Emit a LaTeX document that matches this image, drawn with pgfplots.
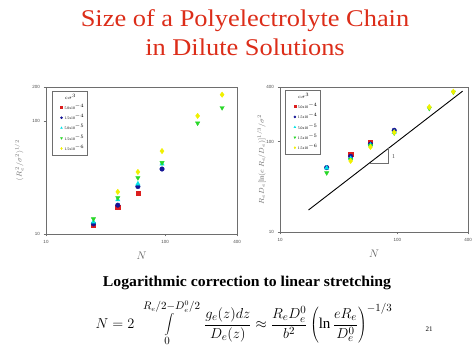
\documentclass[border=0pt]{standalone}
\usepackage{pgfplots}
\pgfplotsset{compat=1.18}
\usepackage{fontspec}
\setmainfont{Liberation Serif}
\newfontfamily\arial{Liberation Sans}
\definecolor{titlered}{RGB}{220,45,25}
\definecolor{pr}{RGB}{220,30,30}
\definecolor{pb}{RGB}{20,20,150}
\definecolor{pc}{RGB}{0,225,230}
\definecolor{pg}{RGB}{40,215,40}
\definecolor{py}{RGB}{240,240,0}
\definecolor{axgray}{RGB}{110,110,110}
\begin{document}
\begin{tikzpicture}[x=1pt,y=1pt]
\path[use as bounding box] (0,0) rectangle (474,355);
\node[text=titlered, font=\fontsize{24}{29}\selectfont, align=center, xscale=1.1] at (245,322) {Size of a Polyelectrolyte Chain\\in Dilute Solutions};

\begin{axis}[scale only axis, xmode=log, ymode=log,
    xmin=10, xmax=400,
    xtick={10,100,400}, xticklabels={10,100,400},
    tick pos=left, tick align=outside,
    axis line style={axgray, line width=0.6pt},
    major tick style={axgray, line width=0.4pt},
    minor tick style={axgray, line width=0.4pt},
    major tick length=2.5pt, minor tick length=1.5pt,
    tick label style={font=\arial\fontsize{4.5}{5}\selectfont, text=black!70},
    /pgf/number format/assume math mode=true,
    xlabel={$N$}, xlabel style={font=\fontsize{11}{12}\selectfont, text=black!60, yshift=-2pt},
    legend cell align=left,
    legend image post style={mark size=1pt},
    legend style={font=\fontsize{3.8}{4}\selectfont, draw=axgray, line width=0.5pt, inner sep=1pt, row sep=-0.6pt},
    at={(46pt,121pt)}, anchor=south west, width=191pt, height=147pt,
  ymin=10, ymax=200, ytick={10,100,200}, yticklabels={10,100,200},
  ylabel={$\langle R_e^{\,2}/\sigma^2\rangle^{1/2}$}, ylabel style={font=\fontsize{7}{8}\selectfont, text=black!60, yshift=2pt},
  legend style={at={(0.03,0.975)}, anchor=north west}]
\addlegendimage{empty legend}\addlegendentry{$c\sigma^3$}
\addplot[only marks, mark size=2.2pt, mark=square*, color=pr] coordinates {(25,11.9) (40,17.2) (59,23.0)};
\addlegendentry{5.0x10$^{-4}$}
\addplot[only marks, mark size=2.3pt, mark=*, color=pb] coordinates {(25,12.3) (40,18.0) (59,26.3) (94,37.6)};
\addlegendentry{1.5x10$^{-4}$}
\addplot[only marks, mark size=2.5pt, mark=triangle*, color=pc] coordinates {(25,12.8) (40,20.1) (59,27.8) (94,41.7)};
\addlegendentry{5.0x10$^{-5}$}
\addplot[only marks, mark size=2.5pt, mark=triangle*, mark options={rotate=180}, color=pg] coordinates {(25,13.6) (40,20.9) (59,31.4) (94,42.8) (187,95.7) (300,131)};
\addlegendentry{1.5x10$^{-5}$}
\addplot[only marks, mark size=2.7pt, mark=diamond*, color=py] coordinates {(40,23.6) (59,35.4) (94,54.2) (187,111) (300,171)};
\addlegendentry{1.5x10$^{-6}$}
\end{axis}

\begin{axis}[scale only axis, xmode=log, ymode=log,
    xmin=10, xmax=400,
    xtick={10,100,400}, xticklabels={10,100,400},
    tick pos=left, tick align=outside,
    axis line style={axgray, line width=0.6pt},
    major tick style={axgray, line width=0.4pt},
    minor tick style={axgray, line width=0.4pt},
    major tick length=2.5pt, minor tick length=1.5pt,
    tick label style={font=\arial\fontsize{4.5}{5}\selectfont, text=black!70},
    /pgf/number format/assume math mode=true,
    xlabel={$N$}, xlabel style={font=\fontsize{11}{12}\selectfont, text=black!60, yshift=-2pt},
    legend cell align=left,
    legend image post style={mark size=1pt},
    legend style={font=\fontsize{3.8}{4}\selectfont, draw=axgray, line width=0.5pt, inner sep=1pt, row sep=-0.6pt},
    at={(280pt,123pt)}, anchor=south west, width=188pt, height=145pt,
  ymin=10, ymax=400, ytick={10,100,400}, yticklabels={10,100,400},
  ylabel={$R_eD_e[\ln(e\,R_e/D_e)]^{1/3}/\sigma^2$}, ylabel style={font=\fontsize{7}{8}\selectfont, text=black!60, yshift=-6pt},
  legend style={at={(0.027,0.98)}, anchor=north west}]
\addlegendimage{empty legend}\addlegendentry{$c\sigma^3$}
\addplot[only marks, mark size=2.2pt, mark=square*, color=pr] coordinates {(40,72) (59,96.5)};
\addlegendentry{5.0x10$^{-4}$}
\addplot[only marks, mark size=2.3pt, mark=*, color=pb] coordinates {(25,51.5) (40,68.5) (59,93.5) (94,133)};
\addlegendentry{1.5x10$^{-4}$}
\addplot[only marks, mark size=2.5pt, mark=triangle*, color=pc] coordinates {(25,51) (40,65) (59,91.5) (94,127)};
\addlegendentry{5.0x10$^{-5}$}
\addplot[only marks, mark size=2.5pt, mark=triangle*, mark options={rotate=180}, color=pg] coordinates {(25,45) (40,63) (59,90) (94,124) (187,232) (300,350)};
\addlegendentry{1.5x10$^{-5}$}
\addplot[only marks, mark size=2.7pt, mark=diamond*, color=py] coordinates {(40,61) (59,87) (94,126) (187,240) (300,355)};
\addlegendentry{1.5x10$^{-6}$}
\addplot[no marks, sharp plot, black, line width=0.9pt, forget plot] coordinates {(17.5,17.5) (360,360)};
\addplot[no marks, sharp plot, axgray, line width=0.5pt, forget plot] coordinates {(58,58) (84,58) (84,84)};
\node[font=\fontsize{6}{7}\selectfont, text=black!70] at (axis cs:93,68) {1};
\end{axis}

\node[font=\bfseries\fontsize{15}{17}\selectfont, xscale=1.05] at (247,72) {Logarithmic correction to linear stretching};
\node[font=\fontsize{15}{18}\selectfont] at (244,32) {$\displaystyle N = 2\;\int\limits_0^{R_e/2-D_e^0/2}\;\frac{g_e(z)dz}{D_e(z)} \approx \frac{R_eD_e^0}{b^2}\left(\ln\frac{eR_e}{D_e^0}\right)^{-1/3}$};
\node[font=\fontsize{7}{8}\selectfont] at (429,26) {21};
\end{tikzpicture}
\end{document}
